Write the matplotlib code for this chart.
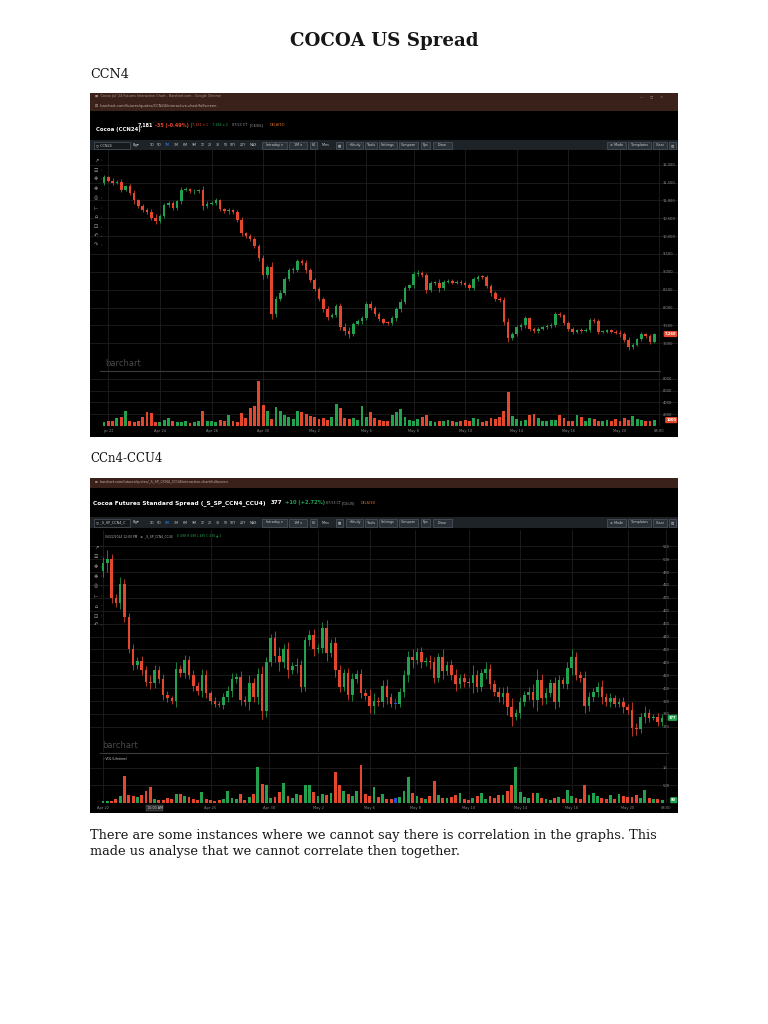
import numpy as np
import matplotlib
matplotlib.use('Agg')
import matplotlib.pyplot as plt
from matplotlib.patches import Rectangle

W, H = 768, 1024

# ---- CCN4 (cocoa Jul '24), hourly-ish candles
ccn4_first_open = 11500
ccn4_close = [
    11650, 11550, 11500, 11520, 11300, 11400, 11200, 11000, 10850, 10720,
    10680, 10520, 10420, 10560, 10880, 10930, 10780, 10980, 11300, 11320,
    11250, 11270, 11280, 10850, 10900, 10940, 11000, 10760, 10700, 10720,
    10680, 10450, 10080, 10000, 9920, 9720, 9380, 8900, 9130, 7820,
    8250, 8420, 8800, 9050, 9060, 9300, 9250, 9050, 8780, 8520,
    8250, 7950, 7750, 7800, 8050, 7450, 7350, 7260, 7550, 7620,
    7700, 8100, 8000, 7820, 7680, 7580, 7560, 7700, 7950, 8150,
    8550, 8620, 8950, 8980, 8900, 8500, 8680, 8700, 8560, 8720,
    8750, 8700, 8720, 8700, 8620, 8560, 8800, 8860, 8850, 8600,
    8400, 8250, 8220, 7600, 7150, 7250, 7450, 7500, 7700, 7400,
    7350, 7400, 7450, 7480, 7520, 7820, 7780, 7560, 7400, 7320,
    7370, 7350, 7380, 7650, 7620, 7320, 7330, 7360, 7320, 7300,
    7250, 7100, 6900, 6960, 7120, 7250, 7200, 7050, 7260,
]
ccn4_wick = [
    60, 40, 80, 50, 70, 40, 60, 90, 50, 40,
    60, 70, 90, 50, 40, 60, 50, 40, 80, 50,
    40, 60, 50, 120, 70, 40, 60, 50, 40, 70,
    50, 60, 80, 40, 60, 50, 70, 90, 60, 150,
    80, 60, 70, 50, 90, 60, 70, 80, 60, 50,
    70, 60, 90, 50, 60, 80, 110, 120, 60, 50,
    70, 60, 80, 50, 60, 40, 50, 60, 70, 80,
    60, 50, 70, 60, 50, 80, 60, 50, 110, 60,
    40, 50, 40, 60, 50, 70, 60, 50, 40, 60,
    70, 60, 50, 90, 120, 60, 50, 70, 60, 50,
    60, 50, 40, 50, 60, 70, 50, 40, 60, 50,
    40, 50, 40, 60, 50, 60, 40, 50, 40, 50,
    60, 70, 90, 50, 40, 60, 50, 60, 40,
]
ccn4_volume = [
    700, 800, 900, 1300, 1600, 2500, 900, 700, 800, 1500,
    2300, 2200, 600, 700, 1100, 1400, 900, 600, 700, 800,
    500, 600, 900, 2600, 900, 800, 700, 1100, 800, 1800,
    900, 700, 2200, 1300, 3000, 3400, 7600, 3500, 2600, 1200,
    3300, 2500, 1800, 1500, 1200, 2600, 2300, 2000, 1700, 1500,
    1200, 1400, 1100, 1600, 3800, 3000, 1400, 1200, 1300, 1000,
    3400, 1500, 2300, 1400, 1100, 800, 900, 1800, 2400, 2900,
    1500, 1000, 900, 1200, 1600, 1800, 900, 700, 800, 900,
    1000, 800, 700, 900, 1100, 800, 1300, 1200, 700, 900,
    1300, 1200, 1600, 2500, 5800, 1700, 1200, 900, 1100, 1800,
    2100, 1300, 900, 800, 1100, 1000, 1900, 1300, 900, 800,
    1800, 1500, 900, 1300, 1200, 900, 800, 1000, 900, 1200,
    800, 1300, 1100, 1700, 1200, 1000, 900, 800, 1000,
]
ccn4_dates = ['pr 22', 'Apr 24', 'Apr 26', 'Apr 30', 'May 2', 'May 6',
              'May 8', 'May 10', 'May 14', 'May 16', 'May 20', '08:00']
ccn4_date_pos = [1, 13, 25, 37, 49, 61, 72, 84, 96, 108, 120, 129]
ccn4_price_ticks = [7000, 7500, 8000, 8500, 9000, 9500, 10000, 10500, 11000, 11500, 12000]
ccn4_vol_ticks = [2000, 4000, 6000, 8000]

# ---- CCN4-CCU4 spread
spread_first_open = 491
spread_close = [
    497, 500, 470, 466, 481, 455, 430, 418, 421, 414,
    405, 404, 414, 407, 395, 392, 390, 415, 412, 422,
    410, 402, 398, 410, 396, 390, 388, 387, 393, 398,
    407, 409, 391, 389, 404, 393, 411, 382, 420, 439,
    425, 420, 430, 414, 417, 418, 401, 437, 441, 430,
    431, 447, 427, 435, 414, 401, 412, 395, 407, 411,
    396, 394, 386, 390, 389, 402, 393, 388, 388, 397,
    410, 424, 422, 428, 420, 421, 420, 408, 424, 413,
    418, 410, 403, 408, 405, 404, 410, 401, 412, 415,
    403, 397, 393, 396, 385, 378, 381, 389, 395, 397,
    391, 406, 392, 396, 404, 389, 406, 403, 416, 424,
    410, 408, 386, 393, 397, 401, 393, 389, 392, 388,
    389, 385, 383, 369, 368, 378, 381, 377, 378, 374,
    377,
]
spread_wick = [
    5, 7, 4, 3, 5, 4, 3, 4, 3, 4,
    3, 5, 4, 3, 4, 3, 2, 5, 3, 4,
    3, 4, 3, 5, 4, 2, 3, 2, 3, 4,
    5, 3, 4, 3, 6, 4, 5, 6, 4, 3,
    5, 7, 4, 6, 3, 5, 4, 3, 4, 5,
    3, 4, 6, 3, 5, 4, 3, 4, 5, 3,
    4, 3, 5, 6, 3, 4, 5, 3, 4, 3,
    4, 5, 6, 3, 4, 3, 5, 4, 3, 6,
    3, 4, 5, 3, 4, 3, 8, 4, 3, 5,
    4, 3, 4, 5, 6, 7, 3, 4, 3, 4,
    6, 9, 5, 4, 3, 5, 4, 3, 4, 6,
    4, 3, 5, 4, 3, 4, 5, 3, 4, 3,
    3, 4, 3, 6, 4, 3, 5, 3, 2, 3,
    3,
]
spread_volume = [
    60, 50, 70, 120, 200, 780, 240, 200, 160, 220,
    350, 450, 120, 90, 80, 140, 110, 250, 260, 200,
    180, 100, 90, 300, 120, 80, 70, 90, 110, 330,
    130, 120, 250, 90, 180, 260, 1020, 540, 500, 140,
    180, 300, 560, 200, 150, 250, 220, 500, 500, 300,
    200, 260, 230, 280, 870, 500, 330, 260, 200, 350,
    1080, 250, 200, 460, 180, 250, 120, 100, 150, 160,
    350, 750, 280, 190, 150, 100, 200, 620, 240, 150,
    130, 180, 220, 270, 110, 90, 150, 200, 270, 120,
    200, 150, 220, 230, 330, 500, 1010, 300, 180, 150,
    290, 290, 130, 110, 90, 150, 180, 120, 370, 200,
    150, 100, 520, 220, 290, 190, 140, 110, 230, 120,
    250, 200, 180, 160, 240, 130, 370, 150, 100, 120,
    80,
]
spread_dates = ['Apr 22', 'Apr 25', 'Apr 30', 'May 2', 'May 6', 'May 8',
                'May 10', 'May 14', 'May 16', 'May 20', '08:00']
spread_date_pos = [0, 25, 38.6, 50, 62, 72.6, 85, 97, 109, 122, 131]
spread_price_ticks = [370, 380, 390, 400, 410, 420, 430, 440, 450, 460, 470, 480, 490, 500, 510]
spread_vol_ticks = [500, 1000]

GREEN = '#22a24f'
RED = '#e5472d'
BLUE = '#2f4fd8'
GRID = '#1e1e1e'
AXTXT = '#8d8d8d'
BROWN = '#3a2119'
BAND = '#1d2327'

fig = plt.figure(figsize=(W / 100, H / 100), dpi=100)
fig.patch.set_facecolor('white')


def px(x0, y0, x1, y1):
    return [x0 / W, 1 - y1 / H, (x1 - x0) / W, (y1 - y0) / H]


def overlay(x0, y0, x1, y1, z=0):
    # axes in page pixel coords, y pointing down
    ax = fig.add_axes(px(x0, y0, x1, y1), zorder=z)
    ax.set_xlim(x0, x1)
    ax.set_ylim(y1, y0)
    ax.set_axis_off()
    return ax


def tiny(ax, x, y, s, color='#9aa0a4', size=2.8, **kw):
    ax.text(x, y, s, color=color, fontsize=size, va='center', **kw)


def button(ax, x0, x1, y0, y1, s, color='#c8cdd0'):
    ax.add_patch(Rectangle((x0, y0), x1 - x0, y1 - y0, fc='#2b3237', ec='#5a636b', lw=0.4))
    ax.text((x0 + x1) / 2, (y0 + y1) / 2, s, color=color, fontsize=2.4, ha='center', va='center')


def toolbar(ax, y0, y1, symbol):
    ax.add_patch(Rectangle((90, y0), 588, y1 - y0, fc=BAND))
    b0, b1 = y0 + 1.5, y1 - 1.5
    ax.add_patch(Rectangle((94, b0), 36, b1 - b0, fc='#15191c', ec='#5a636b', lw=0.4))
    tiny(ax, 96, (b0 + b1) / 2, '○ ' + symbol, '#c8cdd0', 2.4)
    tiny(ax, 133, (b0 + b1) / 2, 'Bg▾', '#c8cdd0', 2.6)
    periods = [('1D', 152), ('5D', 159), ('1M', 167), ('3M', 176), ('6M', 185), ('9M', 194),
               ('1Y', 203), ('2Y', 210), ('3Y', 218), ('5Y', 226), ('10Y', 233), ('20Y', 243),
               ('MAX', 253)]
    for lab, x in periods:
        c = '#2f8cff' if lab == '1M' else '#c8cdd0'
        ax.text(x, (b0 + b1) / 2, lab, color=c, fontsize=2.3, ha='center', va='center')
    for x0, x1, s in [(262, 287, 'Intraday ▾'), (289, 307, '1M ▾'), (310, 317, '60'),
                      (336, 343, '▦'), (346, 363, '+Study'), (365, 377, 'Tools'),
                      (379, 397, 'Settings'), (399, 418, 'Compare'), (421, 430, 'Fps'),
                      (433, 452, 'Draw'), (607, 626, '⚙ Mode'), (628, 651, 'Templates'),
                      (653, 667, 'Clear'), (669, 676, '▤')]:
        button(ax, x0, x1, b0, b1, s)
    tiny(ax, 322, (b0 + b1) / 2, 'Mins', '#c8cdd0', 2.4)


def left_icons(ax, ys):
    glyphs = ['↗', '☰', '✥', '✥', '◎', '⊢', '⌂', '⊡', '↶', '↷']
    for g, y in zip(glyphs, ys):
        ax.text(96, y, g, color='#a9a9a9', fontsize=3.6, ha='center', va='center')
        ax.text(101, y, '›', color='#777777', fontsize=2.5, ha='center', va='center')


def candles(ax, vax, first_open, close, wick, volume):
    close = np.array(close, dtype=float)
    wick = np.array(wick, dtype=float)
    volume = np.array(volume, dtype=float)
    opens = np.concatenate([[first_open], close[:-1]])
    idx = np.arange(len(close))
    cols = np.where(close > opens, GREEN, np.where(close < opens, RED, BLUE))
    lo = np.minimum(opens, close)
    hi = np.maximum(opens, close)
    span = ax.get_ylim()[1] - ax.get_ylim()[0]
    body = np.maximum(hi - lo, span * 0.004)
    ax.vlines(idx, lo - wick, hi + wick, colors=cols, lw=0.55, zorder=2)
    ax.bar(idx, body, bottom=lo, width=0.6, color=cols, linewidth=0, zorder=3)
    vax.bar(idx, volume, width=0.66, color=cols, linewidth=0, zorder=3)


def style_pane(ax, xlim, ylim, xticks, yticks, ylabels):
    ax.set_facecolor('none')
    ax.set_xlim(*xlim)
    ax.set_ylim(*ylim)
    ax.set_xticks(xticks)
    ax.set_yticks(yticks)
    ax.set_yticklabels(ylabels)
    ax.yaxis.tick_right()
    ax.tick_params(axis='y', length=0, pad=-11, labelsize=2.6, labelcolor=AXTXT)
    ax.tick_params(axis='x', length=0)
    ax.grid(color=GRID, lw=0.6)
    ax.set_axisbelow(True)
    for s in ax.spines.values():
        s.set_visible(False)


def price_tag(ax, value, text, color):
    ax.text(0.997, value, text, transform=ax.get_yaxis_transform(), ha='right', va='center',
            fontsize=2.6, color='white', weight='bold', zorder=5,
            bbox=dict(boxstyle='round,pad=0.3', fc=color, ec='none'))


# ================= screenshot 1: CCN4 =================
bg1 = overlay(90, 93, 678, 437)
bg1.add_patch(Rectangle((90, 93), 588, 344, fc='black'))
bg1.add_patch(Rectangle((90, 93), 588, 18, fc=BROWN))
tiny(bg1, 95, 96.5, "■  Cocoa Jul '24 Futures Interactive Chart - Barchart.com - Google Chrome", '#a58f85', 2.4)
tiny(bg1, 640, 96.5, '—      □      ✕', '#a58f85', 2.4)
tiny(bg1, 95, 105.5, '⊟  barchart.com/futures/quotes/CCN24/interactive-chart/fullscreen', '#c4b2a8', 2.6)
tiny(bg1, 96, 129, 'Cocoa (CCN24)', 'white', 3.9, weight='bold')
tiny(bg1, 138, 125, '7,181', 'white', 3.5, weight='bold')
tiny(bg1, 155, 125, '-35 (-0.49%) |', RED, 3.5, weight='bold')
tiny(bg1, 192, 125, '7,181 x 1', RED, 2.4)
tiny(bg1, 212, 125, '7,186 x 2', GREEN, 2.4)
tiny(bg1, 232, 125, '07:53 CT', '#a0a0a0', 2.4)
tiny(bg1, 250, 125, '[ICE/US]', '#a0a0a0', 2.4)
tiny(bg1, 270, 125, 'DELAYED', '#d2691e', 2.4)
toolbar(bg1, 140, 150, 'CCN24')
bg1.plot([100, 660], [371, 371], color='#3c3c3c', lw=0.8)
bg1.text(105, 363, 'barchart', color='#4a4a4a', fontsize=6, va='center')

ax1 = fig.add_axes(px(90, 150, 678, 371), zorder=1)
style_pane(ax1, (-3.26, 133.5), (6225, 12411), ccn4_date_pos, ccn4_price_ticks,
           [f'{v:,}' for v in ccn4_price_ticks])
ax1.tick_params(axis='x', labelbottom=False)
vax1 = fig.add_axes(px(90, 372, 678, 426), zorder=1)
style_pane(vax1, (-3.26, 133.5), (0, 9150), ccn4_date_pos, ccn4_vol_ticks,
           [str(v) for v in ccn4_vol_ticks])
vax1.set_xticklabels(ccn4_dates)
vax1.tick_params(axis='x', pad=2, labelsize=2.6, labelcolor=AXTXT)
candles(ax1, vax1, ccn4_first_open, ccn4_close, ccn4_wick, ccn4_volume)
price_tag(ax1, ccn4_close[-1], f'{ccn4_close[-1]:,}', RED)
price_tag(vax1, ccn4_volume[-1], str(ccn4_volume[-1]), RED)

ic1 = overlay(90, 150, 678, 371, z=2)
left_icons(ic1, [160, 170, 179, 189, 198, 208, 217, 227, 236, 245])

# ================= screenshot 2: spread =================
bg2 = overlay(90, 478, 678, 813)
bg2.add_patch(Rectangle((90, 478), 588, 335, fc='black'))
bg2.add_patch(Rectangle((90, 478), 588, 10, fc=BROWN))
tiny(bg2, 95, 482.5, '⊟  barchart.com/futures/quotes/_S_SP_CCN4_CCU4/interactive-chart/fullscreen', '#c4b2a8', 2.4)
tiny(bg2, 93, 503, 'Cocoa Futures Standard Spread (_S_SP_CCN4_CCU4)', 'white', 4.2, weight='bold')
tiny(bg2, 271, 502.5, '377', 'white', 4.0, weight='bold')
tiny(bg2, 285, 502.5, '+10 (+2.72%)', GREEN, 3.7, weight='bold')
tiny(bg2, 326, 503, '07:53 CT', '#a0a0a0', 2.3)
tiny(bg2, 342, 503, '[ICE/US]', '#a0a0a0', 2.3)
tiny(bg2, 361, 503, 'DELAYED', '#d2691e', 2.3)
toolbar(bg2, 517, 528, '_S_SP_CCN4_C')
tiny(bg2, 105, 536, '04/22/2024 12:00 PM   ≡  _S_SP_CCN4_CCU4', '#b5b5b5', 2.2)
tiny(bg2, 177, 536, 'O 498 H 498 L 485 C 488 ▲ 2', GREEN, 2.2)
bg2.plot([100, 668], [753, 753], color='#3c3c3c', lw=0.8)
bg2.text(102, 745, 'barchart', color='#4a4a4a', fontsize=6, va='center')
tiny(bg2, 103, 759, '▾ VOL (Lifetime)', '#cfd8cf', 2.2)

ax2 = fig.add_axes(px(90, 530, 678, 752), zorder=1)
style_pane(ax2, (-3.02, 133.7), (350.5, 522.6), spread_date_pos, spread_price_ticks,
           [str(v) for v in spread_price_ticks])
ax2.tick_params(axis='x', labelbottom=False)
vax2 = fig.add_axes(px(90, 755, 678, 803), zorder=1)
style_pane(vax2, (-3.02, 133.7), (0, 1364), spread_date_pos, spread_vol_ticks,
           ['500', '1K'])
vax2.set_xticklabels(spread_dates)
vax2.tick_params(axis='x', pad=2, labelsize=2.6, labelcolor=AXTXT)
vax2.annotate('10:00 AM', xy=(12, 0), xycoords=('data', 'axes fraction'), xytext=(0, -2.2),
              textcoords='offset points', ha='center', va='top', fontsize=2.4, color='#d0d0d0',
              bbox=dict(boxstyle='square,pad=0.25', fc='#2a2a2a', ec='#6a6a6a', lw=0.3))
candles(ax2, vax2, spread_first_open, spread_close, spread_wick, spread_volume)
price_tag(ax2, spread_close[-1], str(spread_close[-1]), GREEN)
price_tag(vax2, spread_volume[-1], str(spread_volume[-1]), GREEN)

ic2 = overlay(90, 530, 678, 752, z=2)
left_icons(ic2, [547, 557, 567, 576, 586, 596, 606, 616, 625])

# ================= page text =================
renderer = fig.canvas.get_renderer()


def fit_text(x, y, s, width, ha='left', **kw):
    t = fig.text(x / W, 1 - y / H, s, ha=ha, va='center', fontsize=10,
                 family='DejaVu Serif', color='#161616', **kw)
    w = t.get_window_extent(renderer).width
    t.set_fontsize(10 * width / w)
    return t


fit_text(384, 41, 'COCOA US Spread', 189, ha='center', weight='bold')
fit_text(90, 75, 'CCN4', 39)
fit_text(90, 459, 'CCn4-CCU4', 73)
line1 = fit_text(90, 836, 'There are some instances where we cannot say there is correlation in the graphs. This', 567)
fig.text(90 / W, 1 - 852 / H, 'made us analyse that we cannot correlate then together.', ha='left', va='center',
         fontsize=line1.get_fontsize(), family='DejaVu Serif', color='#161616')

fig.savefig('out.png', dpi=100, facecolor='white')
